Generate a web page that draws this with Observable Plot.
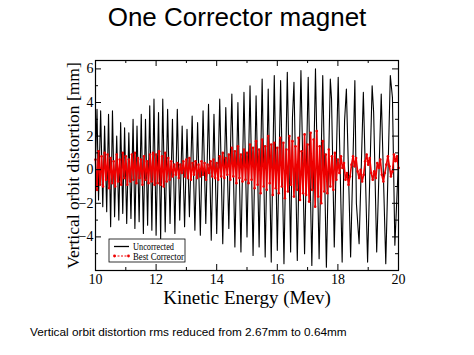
<!DOCTYPE html>
<html>
<head>
<meta charset="utf-8">
<script src="https://cdn.jsdelivr.net/npm/d3@7"></script>
<script src="https://cdn.jsdelivr.net/npm/@observablehq/plot@0.6"></script>
<style>
  html, body { margin: 0; padding: 0; background: #fff; }
  #page { position: relative; width: 474px; height: 355px; overflow: hidden; background: #fff; }
  #title { position: absolute; left: 0; width: 474px; top: 2px; text-align: center;
           font-family: "Liberation Sans", Arial, sans-serif; font-size: 26px; color: #000; }
  #caption { position: absolute; left: 30px; top: 325px;
           font-family: "Liberation Sans", Arial, sans-serif; font-size: 11.8px; color: #000; }
  #chart { position: absolute; left: 0; top: 0; }
</style>
</head>
<body>
<div id="page">
  <div id="chart"></div>
  <div id="title">One Corrector magnet</div>
  <div id="caption">Vertical orbit distortion rms reduced from 2.67mm to 0.64mm</div>
</div>
<script>
// ---- data ----
const title = "One Corrector magnet";
const xLabel = "Kinetic Energy (Mev)";
const yLabel = "Vertical orbit distortion [mm]";
const seriesNames = ["Uncorrected", "Best Corrector"];
const xTicks = [10, 12, 14, 16, 18, 20];
const xMinor = [11, 13, 15, 17, 19];
const yTicks = [-4, -2, 0, 2, 4, 6];
const yMinor = [-5, -3, -1, 1, 3, 5];

// Uncorrected orbit (black)
const energyUncorrected = [
  10.00, 10.05, 10.10, 10.17, 10.24, 10.30, 10.37, 10.43, 10.50, 10.56,
  10.63, 10.70, 10.77, 10.83, 10.90, 10.96, 11.03, 11.10, 11.17, 11.24,
  11.30, 11.37, 11.44, 11.51, 11.58, 11.65, 11.72, 11.79, 11.86, 11.93,
  12.00, 12.08, 12.15, 12.22, 12.30, 12.38, 12.46, 12.54, 12.62, 12.70,
  12.78, 12.86, 12.94, 13.02, 13.10, 13.19, 13.28, 13.37, 13.46, 13.55,
  13.64, 13.73, 13.82, 13.91, 14.00, 14.10, 14.20, 14.30, 14.40, 14.47, 14.50,
  14.60, 14.70, 14.80, 14.90, 15.00, 15.10, 15.20, 15.30, 15.40, 15.50,
  15.60, 15.70, 15.80, 15.90, 16.00, 16.11, 16.22, 16.33, 16.44, 16.50, 16.55,
  16.66, 16.78, 16.90, 17.02, 17.14, 17.26, 17.38, 17.50, 17.62, 17.75, 17.79,
  17.88, 18.01, 18.14, 18.22, 18.28, 18.42, 18.56, 18.61, 18.70, 18.84, 18.98, 19.13, 19.18,
  19.28, 19.43, 19.58, 19.73, 19.80, 19.88, 20.00
];
const uncorrected = [
   0.5,  3.6, -1.8,  3.5, -2.2,  2.6, -2.5,  3.3, -3.4,  3.5,
  -2.8,  2.0, -3.0,  2.8, -2.6,  2.5, -3.2,  2.2, -2.9,  3.0,
  -3.5,  2.6, -3.1,  3.3, -3.8,  3.0, -3.3,  3.8, -3.6,  4.2,
  -3.9,  3.4, -4.1,  4.2, -3.7,  3.6, -3.2,  3.0, -3.8,  3.6,
  -3.0,  2.6, -3.4,  2.4, -2.8,  3.2, -3.6,  2.8, -3.9,  3.5,
  -3.2,  3.9, -4.2,  3.3, -3.8,  4.2, -4.4,  3.7, -3.5,  2.5,  4.5,
  -4.6,  4.0, -4.9,  4.6, -4.0,  5.0, -5.1,  4.4, -4.6,  5.4,
  -5.2,  4.8, -5.5,  5.6, -4.8,  5.3, -5.6,  5.8, -4.9,  3.1,  5.2,
  -5.4,  5.9, -5.0,  5.5, -5.7,  6.0, -5.3,  5.6, -5.8,  5.4,  4.2,
  -4.6,  5.5, -5.5,  2.9,  4.8, -5.2,  5.3, -2.0, -4.4,  4.6, -5.5,  5.0,  3.4,
  -4.9,  4.5, -5.6,  5.6,  4.3, -4.5,  0.6
];

// Best corrector orbit (red)
const energyCorrected = [
  10.00,10.05,10.10,10.15,10.20,10.25,10.30,10.35,10.40,10.45,10.50,10.55,10.60,10.65,10.70,10.75,10.80,10.85,10.90,10.95,
  11.00,11.05,11.10,11.15,11.20,11.25,11.30,11.35,11.40,11.45,11.50,11.55,11.60,11.65,11.70,11.75,11.80,11.85,11.90,11.95,
  12.00,12.05,12.10,12.15,12.20,12.25,12.30,12.35,12.40,12.45,12.50,12.55,12.60,12.65,12.70,12.75,12.80,12.85,12.90,12.95,
  13.00,13.05,13.10,13.15,13.20,13.25,13.30,13.35,13.40,13.45,13.50,13.55,13.60,13.65,13.70,13.75,13.80,13.85,13.90,13.95,
  14.00,14.05,14.10,14.15,14.20,14.25,14.30,14.35,14.40,14.45,14.50,14.55,14.60,14.65,14.70,14.75,14.80,14.85,14.90,14.95,
  15.00,15.05,15.10,15.15,15.20,15.25,15.30,15.35,15.40,15.45,15.50,15.55,15.60,15.65,15.70,15.75,15.80,15.85,15.90,15.95,
  16.00,16.05,16.10,16.15,16.20,16.25,16.30,16.35,16.40,16.45,16.50,16.55,16.60,16.65,16.70,16.75,16.80,16.85,16.90,16.95,
  17.00,17.05,17.10,17.15,17.20,17.25,17.30,17.35,17.40,17.45,17.50,17.55,17.60,17.65,17.70,17.75,17.80,17.85,17.90,17.95,
  18.00,18.05,18.10,18.15,18.20,18.25,18.30,18.35,18.40,18.45,18.50,18.55,18.60,18.65,18.70,18.75,18.80,18.85,18.90,18.95,
  19.00,19.05,19.10,19.15,19.20,19.25,19.30,19.35,19.40,19.45,19.50,19.55,19.60,19.65,19.70,19.75,19.80,19.85,19.90,19.95,
  20.00
];
const bestCorrector = [
  0.6,-1.2, 1.1,-0.9, 0.8,-1.0, 1.0,-0.6, 0.9,-1.1, 0.7,-0.8, 0.5,-1.0, 0.9,-0.7, 0.6,-0.9, 1.0,-0.5,
  0.8,-0.9, 0.6,-0.7, 0.9,-0.6, 1.0,-0.8, 0.7,-0.5, 0.6,-0.9, 0.8,-0.6, 0.5,-0.8, 0.9,-0.7, 1.0,-0.9,
  0.9,-0.8, 1.1,-0.9, 0.8,-1.0, 1.0,-0.7, 0.7,-0.6, 0.5,-0.4, 0.3,-0.3, 0.4,-0.5, 0.3,-0.2, 0.5,-0.4,
  0.6,-0.5, 0.7,-0.6, 0.4,-0.3, 0.5,-0.5, 0.3,-0.4, 0.5,-0.3, 0.4,-0.6, 0.3,-0.2, 0.5,-0.4, 0.6,-0.5,
  0.4,-0.6, 0.8,-0.4, 1.0,-0.5, 0.7,-0.3, 0.9,-0.6, 1.3,-0.4, 1.1,-0.8, 1.4,-0.5, 0.9,-0.7, 1.2,-0.6,
  1.0,-0.8, 1.5,-0.6, 1.3,-1.1, 1.7,-0.9, 1.2,-1.4, 1.8,-1.0, 1.4,-1.2, 2.0,-0.8, 1.5,-1.5, 1.6,-1.1,
  1.3,-1.4, 1.9,-1.0, 1.6,-1.7, 1.2,-1.3, 2.0,-0.9, 1.7,-1.6, 1.4,-1.2, 1.9,-1.8, 1.1,-1.4, 2.1,-1.5,
  1.5,-1.9, 2.2,-1.2, 1.8,-2.2, 2.3,-1.6, 1.4,-2.0, 1.7,-1.3, 0.9,-1.4, 1.2,-1.0, 0.8,-1.2, 1.0,-0.6,
  0.6,-0.2, 0.8, 0.1, 0.4,-0.6,-0.2,-0.9,-0.4, 0.3, 0.8, 0.2, 0.7,-0.1,-0.5, 0.0,-0.7,-0.3, 0.5, 0.9,
  0.3, 0.7,-0.2,-0.6,-0.1,-0.5, 0.4, 0.1, 0.6,-0.3,-0.7,-0.2, 0.3, 0.8, 0.2,-0.4,-0.1, 0.9, 0.5, 0.8,
  0.1
];

// ---- build tables ----
const blackData = energyUncorrected.map((e, i) => ({e, v: uncorrected[i]}));
const redData = energyCorrected.map((e, i) => ({e, v: bestCorrector[i]}));

const W = 474, H = 312;
const mL = 95, mR = 76, mT = 60, mB = 42;
const frameH = H - mT - mB, frameW = W - mL - mR;
const serif = "'Liberation Serif', 'DejaVu Serif', 'Times New Roman', serif";
const RED = "#ee0000";

const plot = Plot.plot({
  width: W, height: H,
  marginLeft: mL, marginRight: mR, marginTop: mT, marginBottom: mB,
  style: {fontFamily: serif, background: "transparent"},
  x: {domain: [10, 20]},
  y: {domain: [-6, 6.5]},
  marks: [
    Plot.line(blackData, {x: "e", y: "v", stroke: "#000", strokeWidth: 1.1}),
    Plot.line(redData, {x: "e", y: "v", stroke: RED, strokeWidth: 1.6}),
    Plot.dot(redData, {x: "e", y: "v", r: 1.3, fill: RED, stroke: "none"}),
    // inward ticks on all four sides
    Plot.ruleX(xTicks, {insetTop: frameH - 6, stroke: "#000"}),
    Plot.ruleX(xTicks, {insetBottom: frameH - 6, stroke: "#000"}),
    Plot.ruleX(xMinor, {insetTop: frameH - 3, stroke: "#000"}),
    Plot.ruleX(xMinor, {insetBottom: frameH - 3, stroke: "#000"}),
    Plot.ruleY(yTicks, {insetRight: frameW - 6, stroke: "#000"}),
    Plot.ruleY(yTicks, {insetLeft: frameW - 6, stroke: "#000"}),
    Plot.ruleY(yMinor, {insetRight: frameW - 3, stroke: "#000"}),
    Plot.ruleY(yMinor, {insetLeft: frameW - 3, stroke: "#000"}),
    Plot.frame({stroke: "#000", strokeWidth: 1.2}),
    Plot.axisX({ticks: xTicks, tickSize: 0, tickPadding: 4, fontSize: 14, label: null, fontFamily: serif}),
    Plot.axisY({ticks: yTicks, tickSize: 0, tickPadding: 2, fontSize: 14, label: null, fontFamily: serif}),
    Plot.text([yLabel], {frameAnchor: "left", dx: -22, rotate: -90, textAnchor: "middle", lineAnchor: "middle",
                         fontSize: 17.5, fontFamily: serif, fill: "#000"}),
    Plot.text([xLabel], {frameAnchor: "bottom", dy: 27, textAnchor: "middle", lineAnchor: "middle",
                         fontSize: 19, fontFamily: serif, fill: "#000"})
  ]
});
document.getElementById("chart").appendChild(plot);

// legend box (decoration, pixel layout)
const svg = d3.select(plot);
const lg = svg.append("g").attr("font-family", serif).attr("font-size", 9.5)
  .attr("text-anchor", "start").style("text-anchor", "start");
lg.append("rect").attr("x", 109).attr("y", 239).attr("width", 76).attr("height", 23)
  .attr("fill", "#fff").attr("stroke", "#000").attr("stroke-width", 0.8);
lg.append("line").attr("x1", 114).attr("x2", 129).attr("y1", 246.5).attr("y2", 246.5)
  .attr("stroke", "#000").attr("stroke-width", 1.3);
lg.append("text").attr("x", 133).attr("y", 249.5).attr("text-anchor", "start")
  .attr("textLength", 41).attr("lengthAdjust", "spacingAndGlyphs").text(seriesNames[0]);
lg.append("line").attr("x1", 114).attr("x2", 129).attr("y1", 256).attr("y2", 256)
  .attr("stroke", RED).attr("stroke-width", 1).attr("stroke-dasharray", "2,1.5");
lg.append("circle").attr("cx", 114.5).attr("cy", 256).attr("r", 1.4).attr("fill", RED);
lg.append("circle").attr("cx", 128.5).attr("cy", 256).attr("r", 1.4).attr("fill", RED);
lg.append("text").attr("x", 133).attr("y", 259.5).attr("text-anchor", "start")
  .attr("textLength", 51).attr("lengthAdjust", "spacingAndGlyphs").text(seriesNames[1]);
</script>
</body>
</html>
